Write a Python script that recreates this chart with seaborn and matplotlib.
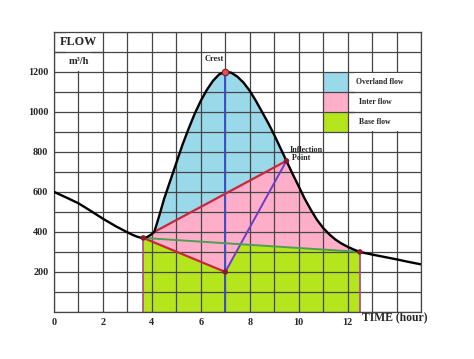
import numpy as np
import seaborn as sns
import matplotlib.pyplot as plt
from matplotlib.patches import Rectangle

# hydrograph (time in hours, flow in m3/h)
time_h = [0, 0.5, 1, 1.5, 2, 2.5, 3, 3.2, 3.4, 3.55, 3.65, 3.8, 3.95, 4.1,
          4.3, 4.5, 4.75, 5, 5.25, 5.5, 5.75, 6, 6.25, 6.5, 6.75, 7,
          7.25, 7.5, 7.75, 8, 8.25, 8.5, 8.75, 9, 9.25, 9.5, 9.75, 10,
          10.25, 10.5, 10.75, 11, 11.25, 11.5, 11.75, 12, 12.25, 12.5,
          13, 13.5, 14, 14.5, 15]
flow = [600, 572, 543, 505, 466, 430, 398, 386, 376, 371, 370, 374, 385, 400,
        480, 565, 655, 745, 835, 915, 990, 1055, 1110, 1155, 1187, 1200,
        1195, 1175, 1145, 1105, 1055, 1000, 945, 885, 820, 755, 690, 628,
        565, 510, 460, 420, 388, 362, 342, 326, 312, 300,
        287, 275, 263, 250, 238]

# key points of the separation
crest_t, crest_q = 7.0, 1200
infl_t, infl_q = 9.5, 755
rise_t, rise_q = 4.1, 400
base_start_t, base_start_q = 3.65, 370
base_end_t, base_end_q = 12.5, 300
base_low_t, base_low_q = 7.0, 200

legend_labels = ["Overland flow", "Inter flow", "Base flow"]
legend_colors = ["#99D9EA", "#FFAEC9", "#B5E61D"]
x_ticks = list(range(0, 16))
y_ticks = list(range(0, 1500, 100))

sns.set_style("white")
plt.rcParams['font.family'] = ['Liberation Serif', 'DejaVu Serif']
plt.rcParams['font.weight'] = 'bold'

fig = plt.figure(figsize=(4.74, 3.59), dpi=100)
ax = fig.add_axes([54 / 474, 1 - 312 / 359, 367 / 474, 280.3 / 359])

t = np.array(time_h)
q = np.array(flow)

# inter flow (pink) under the whole storm part
m = (t >= base_start_t) & (t <= base_end_t)
ax.fill_between(t[m], 0, q[m], color=legend_colors[1], lw=0, zorder=1)

# overland flow (blue) above the rise->inflection line
m = (t >= rise_t) & (t <= infl_t)
low = np.interp(t[m], [rise_t, infl_t], [rise_q, infl_q])
ax.fill_between(t[m], low, q[m], color=legend_colors[0], lw=0, zorder=1.1)

# base flow (green)
s_green = (base_end_q - base_start_q) / (base_end_t - base_start_t)
s_purple = (infl_q - base_low_q) / (infl_t - base_low_t)
xi = (base_start_q - s_green * base_start_t - base_low_q + s_purple * base_low_t) / (s_purple - s_green)
yi = base_low_q + s_purple * (xi - base_low_t)
ax.fill([base_start_t, base_start_t, base_low_t, xi, base_end_t, base_end_t],
        [0, base_start_q, base_low_q, yi, base_end_q, 0],
        color=legend_colors[2], lw=0, zorder=1.2)

# grid
ax.set_xlim(0, 15)
ax.set_ylim(0, 1400)
ax.set_xticks(x_ticks)
ax.set_yticks(y_ticks)
ax.set_xticklabels([str(h) if h % 2 == 0 and h <= 12 else '' for h in x_ticks])
ax.set_yticklabels([str(v) if v % 200 == 0 and 0 < v <= 1200 else '' for v in y_ticks])
ax.tick_params(length=0, labelsize=7.3, pad=4)
ax.grid(True, color='#454545', lw=0.9)
ax.set_axisbelow(False)
for sp in ax.spines.values():
    sp.set_color('#454545')
    sp.set_linewidth(0.9)
    sp.set_zorder(3)

# white boxes for the title and legend text
ax.add_patch(Rectangle((0.5, 1205), 1.0, 190, fc='white', ec='none', zorder=2.6))
ax.plot([0, 2], [1300, 1300], color='#454545', lw=0.9, zorder=2.7)
ax.add_patch(Rectangle((12.3, 905), 2.6, 290, fc='white', ec='none', zorder=2.6))
ax.hlines([1000, 1100], 12, 15, color='#454545', lw=0.9, zorder=2.7)

for i, (lab, col) in enumerate(zip(legend_labels, legend_colors)):
    top = 1200 - 100 * i
    ax.add_patch(Rectangle((11, top - 100), 1, 100, fc=col, ec='none', zorder=1))
    ax.text(12.35 if i == 0 else 12.45, top - 50, lab, fontsize=5.6, fontweight='bold',
            va='center', ha='left', zorder=3)

# separation lines
ax.plot([crest_t, base_low_t], [crest_q, 0], color='#3A4FC8', lw=1.4, zorder=3)
ax.plot([base_low_t, infl_t], [base_low_q, infl_q], color='#6A3FC8', lw=1.4, zorder=3)
ax.plot([rise_t, infl_t], [rise_q, infl_q], color='#C8283C', lw=1.6, zorder=3)
ax.plot([base_start_t, base_low_t], [base_start_q, base_low_q], color='#C8283C', lw=1.6, zorder=3)
ax.plot([base_start_t, base_end_t], [base_start_q, base_end_q], color='#4E9E55', lw=1.4, zorder=3)
ax.plot([base_start_t, base_start_t], [0, base_start_q], color='#A8497E', lw=1.2, zorder=3)
ax.plot([base_end_t, base_end_t], [0, base_end_q], color='#A8497E', lw=1.2, zorder=3)

sns.lineplot(x=time_h, y=flow, ax=ax, color='black', lw=1.7, sort=False, estimator=None, zorder=4)

sns.scatterplot(x=[base_start_t, base_low_t, infl_t, base_end_t],
                y=[base_start_q, base_low_q, infl_q, base_end_q],
                ax=ax, color='#8B1A2A', s=16, edgecolor='none', zorder=5)
ax.scatter([crest_t], [crest_q], s=22, color='#E05050', edgecolor='#8B1A2A', lw=0.8, zorder=5)

# texts
ax.text(1, 1350, "FLOW", fontsize=8.7, fontweight='bold', ha='center', va='center', zorder=3)
ax.text(1, 1250, "m³/h", fontsize=7.5, fontweight='bold', ha='center', va='center', zorder=3)
ax.text(6.55, 1262, "Crest", fontsize=6.0, fontweight='bold', ha='center', va='center', zorder=3)
ax.text(9.65, 790, "Inflection\n Point", fontsize=5.8, fontweight='bold', ha='left', va='center',
        linespacing=1.1, zorder=3)
ax.text(12.6, -28, "TIME (hour)", fontsize=8.4, fontweight='bold', ha='left', va='center',
        clip_on=False)

fig.savefig("out.png", dpi=100)
